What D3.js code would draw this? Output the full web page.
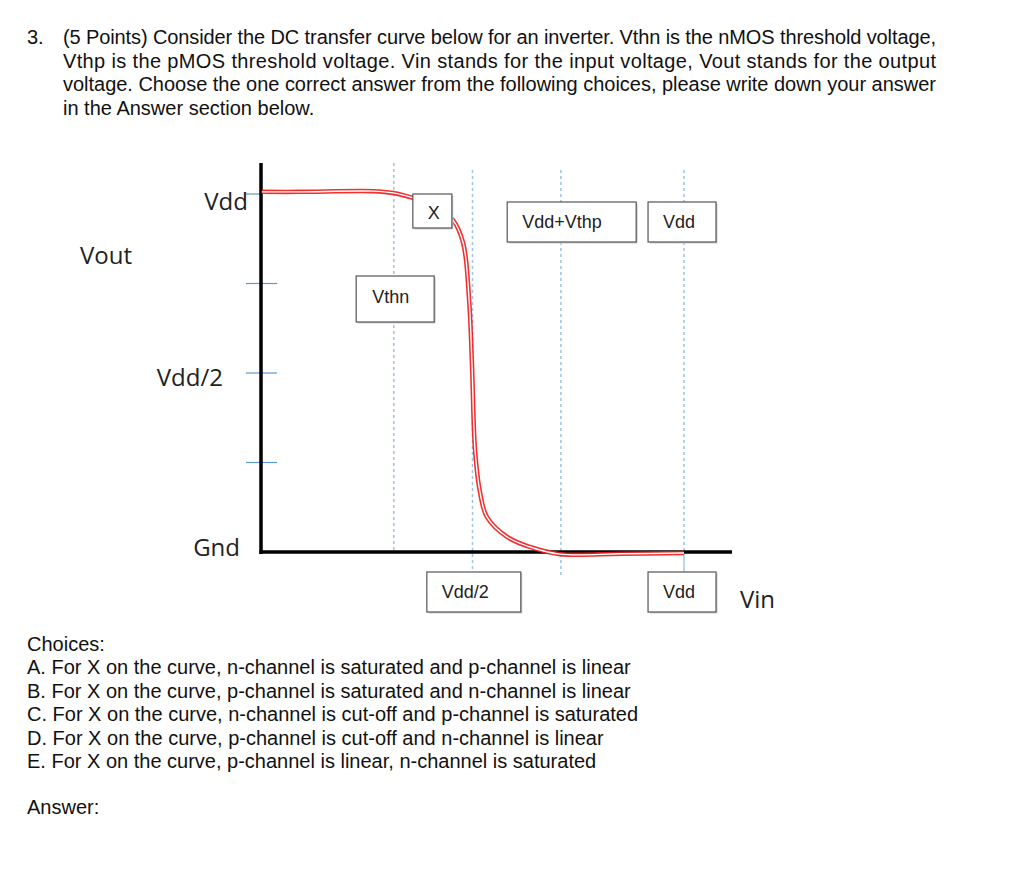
<!DOCTYPE html>
<html>
<head>
<meta charset="utf-8">
<script src="https://cdn.jsdelivr.net/npm/d3@7"></script>
<style>
  body { margin: 0; background: #fff; }
  svg { display: block; }
</style>
</head>
<body>
<div id="chart"></div>
<script>
// Question text (first three lines are justified)
const questionLines = [
  "(5 Points) Consider the DC transfer curve below for an inverter. Vthn is the nMOS threshold voltage,",
  "Vthp is the pMOS threshold voltage. Vin stands for the input voltage, Vout stands for the output",
  "voltage. Choose the one correct answer from the following choices, please write down your answer",
  "in the Answer section below."
];
const choiceLines = [
  "Choices:",
  "A. For X on the curve, n-channel is saturated and p-channel is linear",
  "B. For X on the curve, p-channel is saturated and n-channel is linear",
  "C. For X on the curve, n-channel is cut-off and p-channel is saturated",
  "D. For X on the curve, p-channel is cut-off and n-channel is linear",
  "E. For X on the curve, p-channel is linear, n-channel is saturated"
];

// Transfer curve, Vin and Vout as fractions of Vdd
const vin  = [0.002, 0.09, 0.265, 0.312, 0.359, 0.411, 0.454, 0.478, 0.492, 0.499, 0.506, 0.518, 0.534, 0.582, 0.636, 0.707, 0.85, 1.0];
const vout = [1.006, 1.006, 1.008, 1.003, 0.989, 0.966, 0.927, 0.863, 0.704, 0.517, 0.285, 0.165, 0.098, 0.042, 0.014, -0.006, -0.005, -0.003];

// y-axis ticks and labels
const yTicks = [1, 0.75, 0.5, 0.25];
const yLabels = [{ v: 1, t: "Vdd" }, { v: 0.5, t: "Vdd/2" }, { v: 0, t: "Gnd" }];

// vertical guide lines (Vthn, Vdd/2, Vdd+Vthp, Vdd)
const guides = [0.314, 0.5, 0.709, 1];

// label boxes: text, x position (fraction of Vdd) of the box left edge, row
const topBoxes = [
  { t: "Vthn", v: 0.225, w: 78, row: "mid" },
  { t: "X", v: 0.359, w: 39, row: "x" },
  { t: "Vdd+Vthp", v: 0.582, w: 129, row: "top" },
  { t: "Vdd", v: 0.915, w: 68, row: "top" }
];
const bottomBoxes = [
  { t: "Vdd/2", v: 0.392, w: 94 },
  { t: "Vdd", v: 0.915, w: 68 }
];

const W = 1024, H = 877;
const svg = d3.select("#chart").append("svg")
  .attr("width", W).attr("height", H);
svg.append("rect").attr("width", W).attr("height", H).attr("fill", "#fff");

const textFont = "'Liberation Sans', Arial, sans-serif";
const labelFont = "'Open Sans', 'Noto Sans', sans-serif";
const fs = 20;

// question
svg.append("text").attr("x", 27).attr("y", 44)
  .attr("font-family", textFont).attr("font-size", fs).attr("fill", "#111")
  .text("3.");
svg.selectAll("text.q").data(questionLines).enter().append("text")
  .attr("class", "q")
  .attr("x", 63)
  .attr("y", (d, i) => 44 + i * 23.5)
  .attr("font-family", textFont).attr("font-size", fs).attr("fill", "#111")
  .attr("textLength", (d, i) => i < 3 ? 873 : null)
  .attr("lengthAdjust", "spacing")
  .text(d => d);

// scales
const x = d3.scaleLinear().domain([0, 1]).range([261, 684]);
const y = d3.scaleLinear().domain([0, 1]).range([552, 194]);

const g = svg.append("g");

// dotted guides
const guideTop = [163, 170, 170, 170];
const guideBot = [550, 575, 575, 552];
g.selectAll("line.guide").data(guides).enter().append("line")
  .attr("x1", d => x(d)).attr("x2", d => x(d))
  .attr("y1", (d, i) => guideTop[i]).attr("y2", (d, i) => guideBot[i])
  .attr("stroke", "#9dc3e6").attr("stroke-width", 1.5)
  .attr("stroke-dasharray", "3,3");
g.append("line")
  .attr("x1", x(1)).attr("x2", x(1)).attr("y1", 552).attr("y2", 572)
  .attr("stroke", "#bcd6ee").attr("stroke-width", 2);

// y ticks
g.selectAll("line.tick").data(yTicks).enter().append("line")
  .attr("x1", 246).attr("x2", (d, i) => i === 0 ? 262 : 277)
  .attr("y1", d => y(d)).attr("y2", d => y(d))
  .attr("stroke", "#5b9bd5").attr("stroke-width", 1.2);

// axes
g.append("line").attr("x1", 261).attr("x2", 261).attr("y1", 163).attr("y2", 554)
  .attr("stroke", "#000").attr("stroke-width", 3.5);
g.append("line").attr("x1", 259.5).attr("x2", 732).attr("y1", 552).attr("y2", 552)
  .attr("stroke", "#000").attr("stroke-width", 3.5);

// transfer curve (double red line)
const pts = vin.map((v, i) => [v, vout[i]]);
const line = d3.line()
  .x(d => x(d[0])).y(d => y(d[1]))
  .curve(d3.curveCatmullRom.alpha(0.5));
g.append("path").attr("d", line(pts))
  .attr("fill", "none").attr("stroke", "#f01818").attr("stroke-width", 4.5)
  .attr("stroke-opacity", 0.9);
g.append("path").attr("d", line(pts))
  .attr("fill", "none").attr("stroke", "#fff").attr("stroke-width", 1.4);

// boxes
function drawBox(x0, y0, w, h, label, tx, ty) {
  g.append("rect").attr("x", x0 + 1.5).attr("y", y0 + 1.5).attr("width", w).attr("height", h)
    .attr("fill", "#d0d0d0");
  g.append("rect").attr("x", x0).attr("y", y0).attr("width", w).attr("height", h)
    .attr("fill", "#fff").attr("stroke", "#555").attr("stroke-width", 1.2);
  g.append("text").attr("x", tx).attr("y", ty)
    .attr("font-family", textFont).attr("font-size", 18).attr("fill", "#222")
    .text(label);
}
const rowY = { top: [202, 40, 228], mid: [276, 46, 303], x: [194, 34, 219] };
const textPad = { "Vthn": 16, "X": 15, "Vdd+Vthp": 15, "Vdd": 15 };
topBoxes.forEach(b => {
  const r = rowY[b.row];
  drawBox(x(b.v), r[0], b.w, r[1], b.t, x(b.v) + textPad[b.t], r[2]);
});
bottomBoxes.forEach(b => {
  drawBox(x(b.v), 572, b.w, 40, b.t, x(b.v) + 15, 598);
});

// axis labels
const labelRight = [248, 223, 240];
const labelDy = [16, 13, 4];
g.selectAll("text.ylab").data(yLabels).enter().append("text")
  .attr("x", (d, i) => labelRight[i])
  .attr("y", (d, i) => y(d.v) + labelDy[i])
  .attr("text-anchor", "end")
  .attr("font-family", labelFont).attr("font-size", 24).attr("fill", "#222")
  .text(d => d.t);
g.append("text").attr("x", 80).attr("y", 264)
  .attr("font-family", labelFont).attr("font-size", 24).attr("fill", "#222")
  .text("Vout");
g.append("text").attr("x", 740).attr("y", 608)
  .attr("font-family", labelFont).attr("font-size", 24).attr("fill", "#222")
  .text("Vin");

// choices and answer
svg.selectAll("text.c").data(choiceLines).enter().append("text")
  .attr("x", 27)
  .attr("y", (d, i) => 651 + i * 23.4)
  .attr("font-family", textFont).attr("font-size", fs).attr("fill", "#111")
  .text(d => d);
svg.append("text").attr("x", 27).attr("y", 814)
  .attr("font-family", textFont).attr("font-size", fs).attr("fill", "#111")
  .text("Answer:");
</script>
</body>
</html>
